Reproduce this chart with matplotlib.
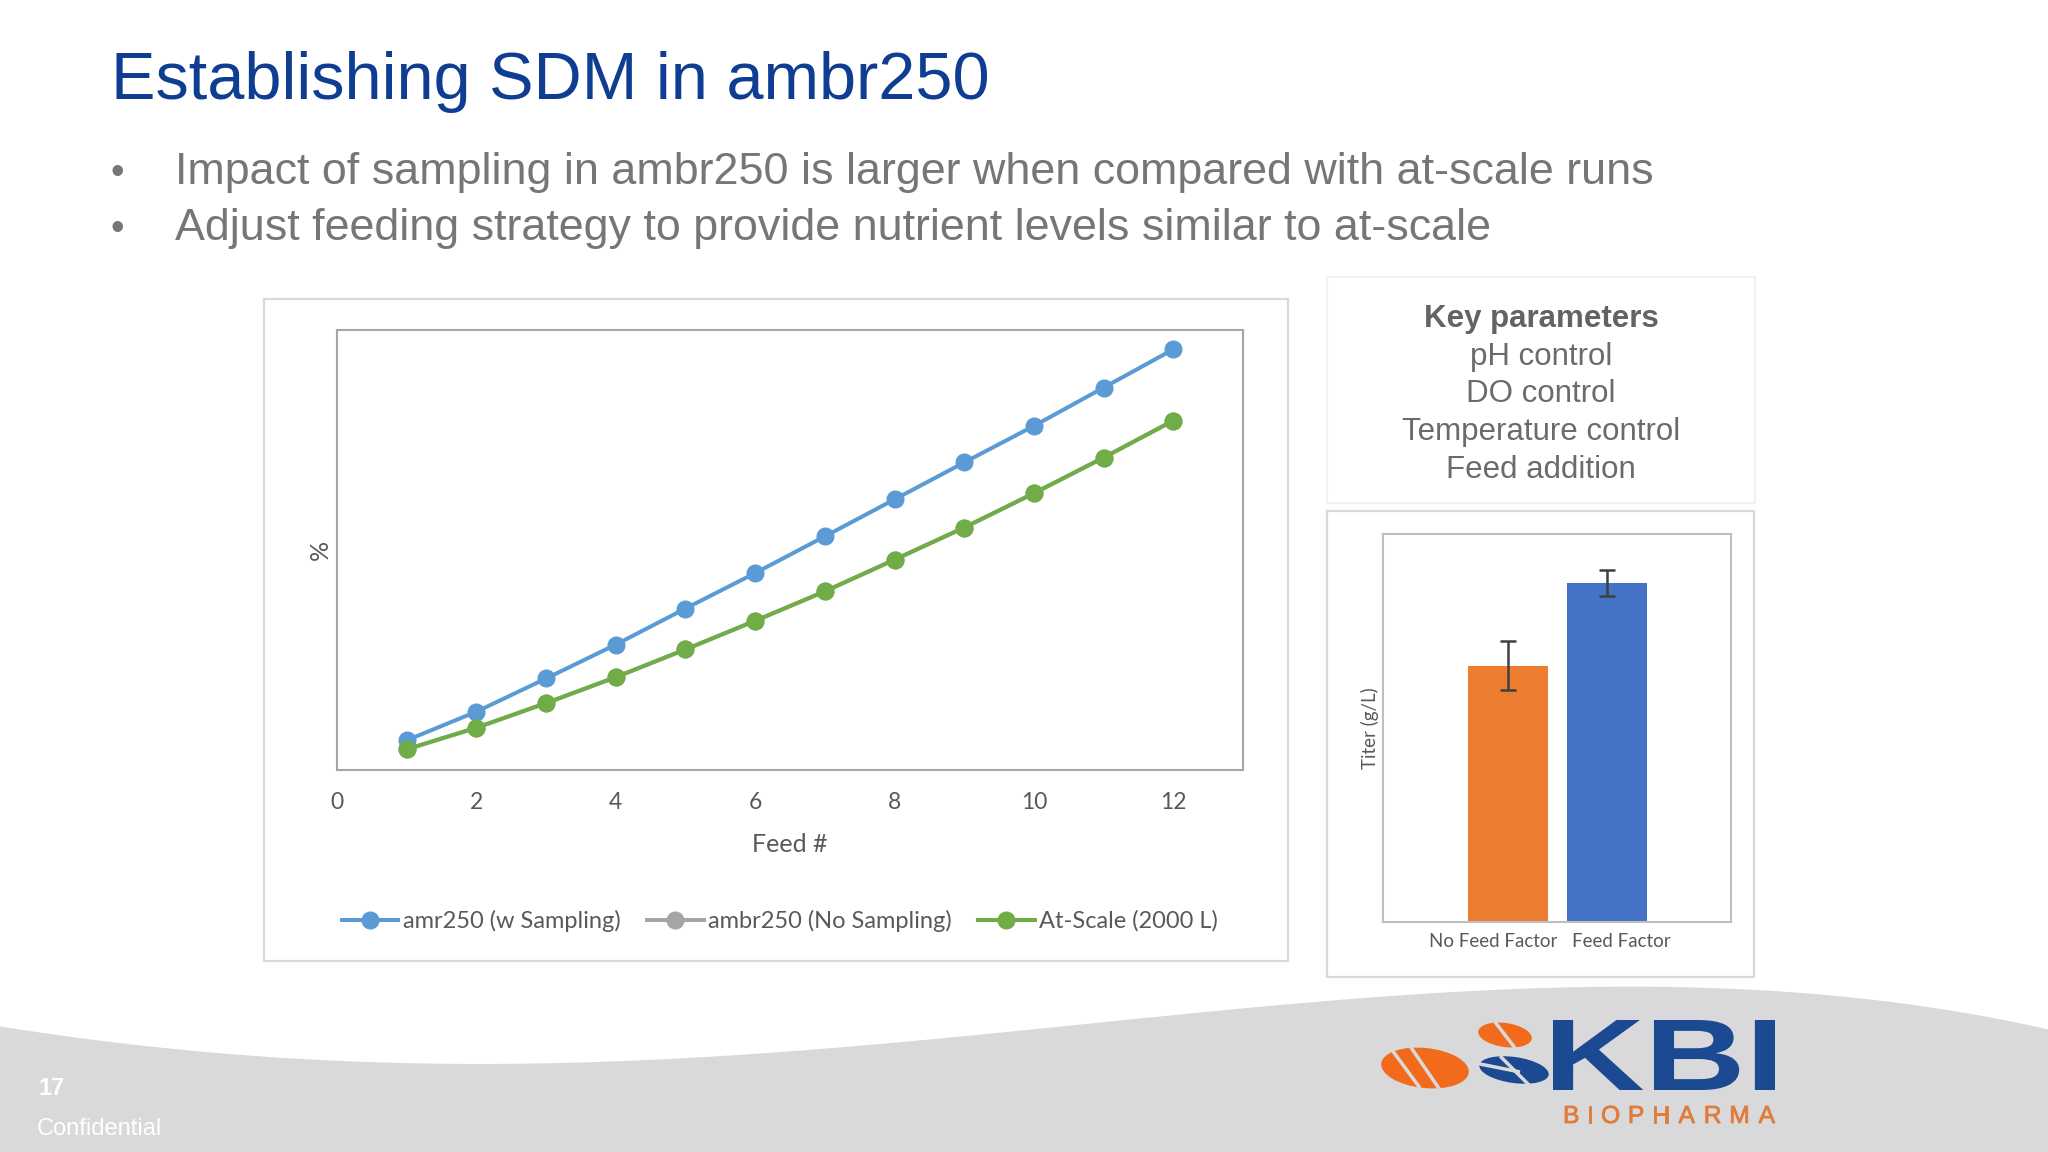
import numpy as np
import matplotlib
matplotlib.use("Agg")
import matplotlib.pyplot as plt
from matplotlib.patches import Rectangle, Ellipse, PathPatch, Polygon
from matplotlib.textpath import TextPath
from matplotlib.font_manager import FontProperties
from matplotlib.transforms import Affine2D
from matplotlib.lines import Line2D

# Data (arbitrary units - the chart has no y scale)
feed = [1, 2, 3, 4, 5, 6, 7, 8, 9, 10, 11, 12]
w_sampling = [6.75, 13.25, 20.8, 28.5, 36.7, 44.75, 53.1, 61.5, 69.9, 78.2, 86.9, 95.6]
no_sampling = [4.7, 9.6, 15.2, 21.1, 27.4, 33.9, 40.6, 47.8, 55.1, 62.9, 71.0, 79.4]
at_scale = [4.7, 9.6, 15.2, 21.1, 27.4, 33.9, 40.6, 47.8, 55.1, 62.9, 71.0, 79.4]
series_names = ["amr250 (w Sampling)", "ambr250 (No Sampling)", "At-Scale (2000 L)"]
x_ticks = [0, 2, 4, 6, 8, 10, 12]

bar_labels = ["No Feed Factor", "Feed Factor"]
titer = [66.1, 87.3]
titer_err = [6.2, 3.4]

key_params = ["pH control", "DO control", "Temperature control", "Feed addition"]
bullets = ["Impact of sampling in ambr250 is larger when compared with at-scale runs",
           "Adjust feeding strategy to provide nutrient levels similar to at-scale"]

# Colours
title_blue = "#0E3D91"
bullet_gray = "#767676"
axis_text = "#595959"
c_blue, c_gray, c_green = "#5B9BD5", "#A5A5A5", "#70AD47"
c_orange_bar, c_blue_bar = "#ED7D31", "#4472C4"
band_gray = "#D9D9DB"
kbi_blue = "#1B4A93"
kbi_orange = "#F26B1D"

W, H = 2048, 1152
fig = plt.figure(figsize=(W / 100, H / 100), dpi=100, facecolor="white")

# background layer in pixel coords (y downwards)
bg = fig.add_axes([0, 0, 1, 1], zorder=0)
bg.set_xlim(0, W)
bg.set_ylim(H, 0)
bg.axis("off")

# grey swoosh at the bottom
cx = np.array([0, 261, 420, 653, 914, 1176, 1437, 1633, 1829, 2048])
cy = np.array([1027, 1053, 1067, 1060, 1040, 1013, 995, 988, 993, 1030])
coef = np.polyfit(cx, cy, 5)
xs = np.linspace(0, W, 200)
ys = np.polyval(coef, xs)
band = np.vstack([np.column_stack([xs, ys]), [[W, H], [0, H]]])
bg.add_patch(Polygon(band, closed=True, facecolor=band_gray, edgecolor="none"))

# title and bullets
bg.text(111, 99, "Establishing SDM in ambr250", fontsize=48, color=title_blue,
        family="Liberation Sans", va="baseline", ha="left")
for i, line in enumerate(bullets):
    yb = 184 + i * 56
    bg.text(110, yb, "\u2022", fontsize=28, color=bullet_gray, family="Liberation Sans",
            va="baseline", ha="left")
    bg.text(175, yb, line, fontsize=32.3, color=bullet_gray, family="Liberation Sans",
            va="baseline", ha="left")

# panels
bg.add_patch(Rectangle((264, 299), 1024, 662, facecolor="white", edgecolor="#D9D9D9", lw=1.6))
bg.add_patch(Rectangle((1327, 277), 428, 226, facecolor="white", edgecolor="#F2F2F2", lw=1.6))
bg.add_patch(Rectangle((1327, 511), 427, 466, facecolor="white", edgecolor="#D9D9D9", lw=1.6))

# key parameters box
bg.text(1541, 319, "Key parameters", fontsize=22.5, fontweight="bold", color="#636363",
        family="Liberation Sans", ha="center", va="center")
for i, p in enumerate(key_params):
    bg.text(1541, 357 + i * 37.5, p, fontsize=22.5, color="#6B6B6B",
            family="Liberation Sans", ha="center", va="center")

# footer
bg.text(38, 1095, "17", fontsize=17, fontweight="bold", color="white",
        family="Liberation Sans", va="baseline")
bg.text(37, 1135, "Confidential", fontsize=17, color="white",
        family="Liberation Sans", va="baseline")


# logo
def fit_text(s, box, color, weight="normal"):
    x0, y0, x1, y1 = box
    tp = TextPath((0, 0), s, size=100, prop=FontProperties(family="Liberation Sans", weight=weight))
    bb = tp.get_extents()
    tr = Affine2D().translate(-bb.x0, -bb.y0).scale((x1 - x0) / bb.width, -(y1 - y0) / bb.height).translate(x0, y1)
    bg.add_patch(PathPatch(tr.transform_path(tp), facecolor=color, edgecolor="none"))


fit_text("KBI", (1553, 1020, 1775, 1090), kbi_blue, weight="bold")

letters = "BIOPHARMA"
fp = FontProperties(family="Liberation Sans")
paths = [TextPath((0, 0), ch, size=100, prop=fp) for ch in letters]
cap = TextPath((0, 0), "H", size=100, prop=fp).get_extents().height
sc = 17 / cap
widths = [p.get_extents().width * sc for p in paths]
gap = (210 - sum(widths)) / (len(letters) - 1)
xpos = 1565
for p, w in zip(paths, widths):
    bb = p.get_extents()
    tr = Affine2D().translate(-bb.x0, 0).scale(sc, -sc).translate(xpos, 1123)
    bg.add_patch(PathPatch(tr.transform_path(p), facecolor="#E07B39", edgecolor="#E07B39", lw=0.6))
    xpos += w + gap

bg.add_patch(Ellipse((1425, 1068), 88, 40, angle=6, facecolor=kbi_orange, edgecolor="none"))
bg.add_patch(Ellipse((1505, 1035), 54, 24, angle=8, facecolor=kbi_orange, edgecolor="none"))
bg.add_patch(Ellipse((1514, 1070), 70, 26, angle=8, facecolor=kbi_blue, edgecolor="none"))
for (xa, ya, xb, yb) in [(1410, 1046, 1440, 1090), (1392, 1050, 1420, 1088),
                         (1495, 1022, 1515, 1048), (1500, 1056, 1530, 1086),
                         (1470, 1062, 1520, 1072)]:
    bg.plot([xa, xb], [ya, yb], color=band_gray, lw=2.5, solid_capstyle="butt")

# line chart
ax = fig.add_axes([337 / W, 1 - 770 / H, 906 / W, 440 / H], zorder=2)
ax.plot(feed, w_sampling, color=c_blue, lw=2.9, marker="o", ms=12, label=series_names[0], zorder=3)
ax.plot(feed, no_sampling, color=c_gray, lw=2.9, marker="o", ms=12, label=series_names[1], zorder=2)
ax.plot(feed, at_scale, color=c_green, lw=2.9, marker="o", ms=12, label=series_names[2], zorder=4)
ax.set_xlim(0, 13)
ax.set_ylim(0, 100)
ax.set_xticks(x_ticks)
ax.set_yticks([])
ax.tick_params(axis="x", length=0, pad=16, labelsize=16.5, labelcolor=axis_text)
for lab in ax.get_xticklabels():
    lab.set_family("Lato")
ax.set_xlabel("Feed #", fontsize=18, color=axis_text, family="Lato", labelpad=14)
ax.set_ylabel("%", fontsize=18, color=axis_text, family="Lato", labelpad=4)
for s in ax.spines.values():
    s.set_color("#A6A6A6")
    s.set_linewidth(1.5)

handles = [Line2D([], [], color=c, lw=2.9, marker="o", ms=12) for c in (c_blue, c_gray, c_green)]
fig.legend(handles, series_names, loc="center", bbox_to_anchor=(780 / W, 1 - 921 / H), ncol=3,
           frameon=False, handlelength=2.4, handletextpad=0.2, columnspacing=1.1,
           prop=FontProperties(family="Lato", size=17), labelcolor=axis_text)

# bar chart
bar_pos = [0, 1]
ax2 = fig.add_axes([1383 / W, 1 - 922 / H, 348 / W, 388 / H], zorder=2)
ax2.bar(bar_pos, titer, width=0.81, color=[c_orange_bar, c_blue_bar], yerr=titer_err, capsize=6,
        error_kw=dict(ecolor="#404040", elinewidth=1.8, capthick=1.8))
ax2.set_xlim(-1.27, 2.26)
ax2.set_ylim(0, 100)
# category labels sit slightly outside the bar centres, as in the original
ax2.set_xticks([bar_pos[0] - 0.15, bar_pos[1] + 0.15])
ax2.set_xticklabels(bar_labels, family="Lato", fontsize=13.5, color=axis_text)
ax2.set_yticks([])
ax2.tick_params(axis="x", length=0, pad=8)
ax2.set_ylabel("Titer (g/L)", fontsize=13.5, color=axis_text, family="Lato", labelpad=3)
for s in ax2.spines.values():
    s.set_color("#BFBFBF")
    s.set_linewidth(1.5)

fig.savefig("out.png", dpi=100, facecolor="white")
